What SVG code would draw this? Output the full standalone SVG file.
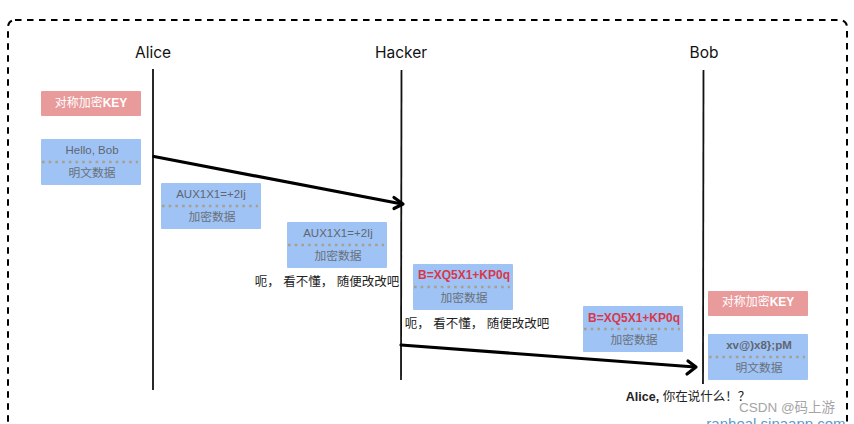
<svg xmlns="http://www.w3.org/2000/svg" width="854" height="424" viewBox="0 0 854 424">
<style>
text{font-family:"Liberation Sans","Noto Sans CJK SC",sans-serif;text-anchor:middle}
.name{font-family:"Inter","Noto Sans CJK SC",sans-serif;font-size:15.500px;fill:#111}
.life{fill:none;stroke:#111;stroke-width:1.8}
.arrow{fill:none;stroke:#000;stroke-width:3.200;stroke-linecap:round;stroke-linejoin:round}
.blue{fill:#9fc3f5}
.red{fill:#e99a9a}
.dot{stroke:#a89f8e;stroke-width:2.600;stroke-dasharray:2.600 4.100;fill:none}
.t{font-size:11.500px;fill:#5f6670}
.c{font-size:11.800px;fill:#6a7078}
.bad{font-size:12px;fill:#d8384a;font-weight:bold}
.k{font-size:12px;fill:#fff}
.note{font-size:12.500px;fill:#222}
.b{font-weight:bold}
</style>
<rect id="frame" x="8" y="20" width="839" height="420" rx="7" fill="none" stroke="#000" stroke-width="2" stroke-dasharray="6.500 5.500"/>
<g id="alice"><text class="name" x="153" y="57.500">Alice</text><path class="life" d="M153 69V390"/></g>
<g id="hacker"><text class="name" x="401" y="57.500">Hacker</text><path class="life" d="M401.500 70L401 380"/></g>
<g id="bob"><text class="name" x="704" y="57.500">Bob</text><path class="life" d="M703.500 70L703 384"/></g>
<g id="connectors">
<path class="arrow" d="M154 156.500L402 204"/><path class="arrow" d="M394 197.500L403 204L394 208.500"/>
<path class="arrow" d="M401 345L695 367"/><path class="arrow" d="M688 361L696 367L687 374"/>
</g>
<g id="key-alice"><rect class="red" x="41" y="91" width="100" height="25" rx="1"/><text class="k" x="91" y="107">对称加密<tspan class="b">KEY</tspan></text></g>
<g id="plain-alice"><rect class="blue" x="41" y="139" width="100" height="46" rx="1"/><path class="dot" d="M42 162H138"/><text class="t" x="92" y="154">Hello, Bob</text><text class="c" x="92" y="177">明文数据</text></g>
<g id="cipher-1"><rect class="blue" x="161" y="183" width="100" height="46" rx="1"/><path class="dot" d="M162 206H258"/><text class="t" x="211" y="198">AUX1X1=+2Ij</text><text class="c" x="212" y="221">加密数据</text></g>
<g id="cipher-2"><rect class="blue" x="287" y="222" width="100" height="46" rx="1"/><path class="dot" d="M288 245H384"/><text class="t" x="338" y="237">AUX1X1=+2Ij</text><text class="c" x="338" y="260">加密数据</text></g>
<text id="note-1" class="note" x="327" y="286">呃， 看不懂， 随便改改吧</text>
<g id="cipher-3"><rect class="blue" x="413" y="264" width="100" height="46" rx="1"/><path class="dot" d="M414 287H510"/><text class="bad" x="464" y="279">B=XQ5X1+KP0q</text><text class="c" x="464" y="302">加密数据</text></g>
<text id="note-2" class="note" x="477" y="328">呃， 看不懂， 随便改改吧</text>
<g id="cipher-4"><rect class="blue" x="583" y="306" width="100" height="46" rx="1"/><path class="dot" d="M584 329H680"/><text class="bad" x="634" y="322">B=XQ5X1+KP0q</text><text class="c" x="634" y="344">加密数据</text></g>
<g id="key-bob"><rect class="red" x="708" y="291" width="100" height="25" rx="1"/><text class="k" x="758" y="306">对称加密<tspan class="b">KEY</tspan></text></g>
<g id="plain-bob"><rect class="blue" x="708" y="334" width="100" height="46" rx="1"/><path class="dot" d="M709 357H805"/><text class="t b" x="759" y="349">xv@)x8};pM</text><text class="c" x="759" y="372">明文数据</text></g>
<text id="note-3" class="note" x="688" y="401"><tspan class="b">Alice,</tspan> 你在说什么！？</text>
<text id="wm" x="787" y="412" font-size="13.500" fill="#a5a5a5">CSDN @码上游</text>
<text id="url" x="776" y="429" font-size="15" fill="#5a9bd0">ranheal.sinaapp.com</text>
</svg>
